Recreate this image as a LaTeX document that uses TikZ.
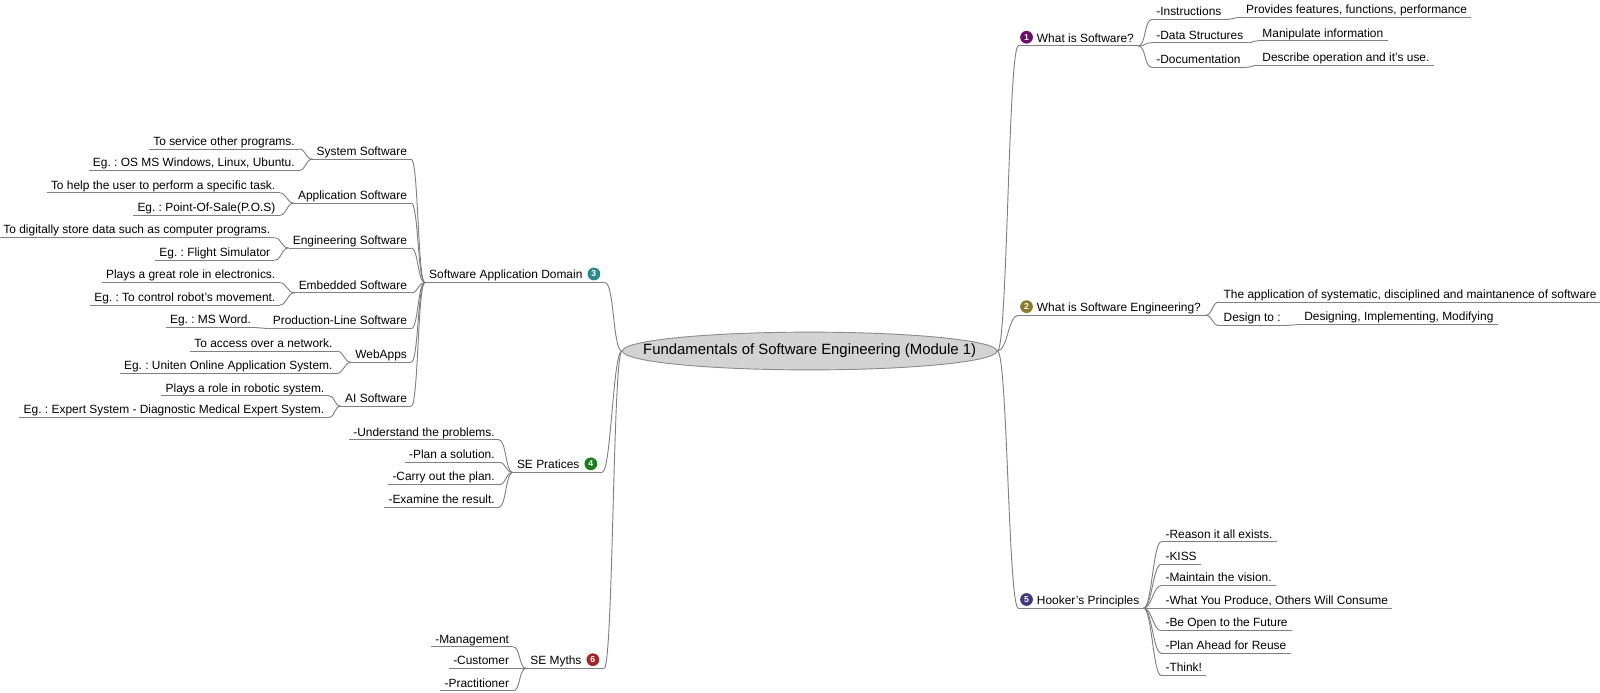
\documentclass[tikz,border=0pt]{standalone}
\usepackage{fontspec}
\setmainfont{Liberation Sans}
\usetikzlibrary{calc,shapes.geometric}
\definecolor{linec}{HTML}{808080}
\definecolor{rootfill}{HTML}{D3D3D3}
\definecolor{rootdraw}{HTML}{8C8C8C}
\definecolor{cA}{HTML}{6A0E6A}
\definecolor{cB}{HTML}{8C7A2E}
\definecolor{cC}{HTML}{2A8A8A}
\definecolor{cD}{HTML}{1A7F1A}
\definecolor{cE}{HTML}{3C3C7C}
\definecolor{cF}{HTML}{A02828}
\newcommand{\aps}{\char"0027\relax}
\frenchspacing
\begin{document}
\begin{tikzpicture}[x=1pt,y=-1pt,
  every node/.style={font=\fontsize{11.7}{13}\selectfont},
  ul/.style={draw=linec, line width=0.9pt},
  txt/.style={inner xsep=4pt, inner ysep=0pt, text height=9pt, text depth=3.5pt,
    append after command={(\tikzlastnode.south west) edge[ul] (\tikzlastnode.south east)}},
  rt/.style={txt, anchor=south west},
  lt/.style={txt, anchor=south east},
  num/.style={circle, fill=#1, inner sep=0pt, minimum size=12.5pt, text=white,
    font=\fontsize{8.5}{9}\selectfont\bfseries},
  conn/.style={draw=linec, line width=0.9pt},
  rc/.style={to path={.. controls ($(\tikztostart)+(#1,0)$) and ($(\tikztotarget)+(-#1,0)$) .. (\tikztotarget)}},
  lc/.style={to path={.. controls ($(\tikztostart)+(-#1,0)$) and ($(\tikztotarget)+(#1,0)$) .. (\tikztotarget)}}
]
\useasboundingbox (0,0) rectangle (1568,679);

% root
\node[ellipse, fill=rootfill, draw=rootdraw, line width=0.9pt, minimum width=367pt, minimum height=37pt,
  inner sep=0pt] (root) at (793.5,344) {};
\node[font=\fontsize{14.6}{16}\selectfont, inner sep=0pt] (roottxt) at (root.center) {Fundamentals of Software Engineering (Module 1)};

% ---------- right side ----------
\node[rt] (n1) at (998,45) {\hspace*{14pt}What is Software?};
\node[num=cA] (k1) at ($(n1.south west)+(8,-8.5)$) {1};
\node[rt] (n1a) at (1129,19) {-Instructions};
\node[rt] (n1b) at (1129,42) {-Data Structures};
\node[rt] (n1c) at (1129,66) {-Documentation};
\node[rt] (n1a1) at (1217,17) {Provides features, functions, performance};
\node[rt] (n1b1) at (1233,40) {Manipulate information};
\node[rt] (n1c1) at (1233,64) {Describe operation and it\aps s use.};

\node[rt] (n2) at (998,309) {\hspace*{14pt}What is Software Engineering?};
\node[num=cB] (k2) at ($(n2.south west)+(8,-8.5)$) {2};
\node[rt] (n2a) at (1195,296) {The application of systematic, disciplined and maintanence of software};
\node[rt] (n2b) at (1195,319) {Design to :};
\node[rt] (n2b1) at (1274,318) {Designing, Implementing, Modifying};

\node[rt] (n5) at (998,596) {\hspace*{14pt}Hooker\aps s Principles};
\node[num=cE] (k5) at ($(n5.south west)+(8,-8.5)$) {5};
\node[rt] (h1) at (1138,531) {-Reason it all exists.};
\node[rt] (h2) at (1138,553) {-KISS};
\node[rt] (h3) at (1138,574) {-Maintain the vision.};
\node[rt] (h4) at (1138,596) {-What You Produce, Others Will Consume};
\node[rt] (h5) at (1138,618) {-Be Open to the Future};
\node[rt] (h6) at (1138,640) {-Plan Ahead for Reuse};
\node[rt] (h7) at (1138,662) {-Think!};

% ---------- left side ----------
\node[lt] (n3) at (593,277) {Software Application Domain\hspace*{18pt}};
\node[num=cC] (k3) at ($(n3.south east)+(-11,-8.5)$) {3};
\node[lt] (s1) at (403,156) {System Software};
\node[lt] (s1a) at (293,146) {To service other programs.};
\node[lt] (s1b) at (293,167) {Eg. : OS MS Windows, Linux, Ubuntu.};
\node[lt] (s2) at (403,199) {Application Software};
\node[lt] (s2a) at (274,189) {To help the user to perform a specific task.};
\node[lt] (s2b) at (274,211) {Eg. : Point-Of-Sale(P.O.S)};
\node[lt] (s3) at (403,243) {Engineering Software};
\node[lt] (s3a) at (269,233) {To digitally store data such as computer programs.};
\node[lt] (s3b) at (269,255) {Eg. : Flight Simulator};
\node[lt] (s4) at (403,287) {Embedded Software};
\node[lt] (s4a) at (274,277) {Plays a great role in electronics.};
\node[lt] (s4b) at (274,299) {Eg. : To control robot\aps s movement.};
\node[lt] (s5) at (403,322) {Production-Line Software};
\node[lt] (s5a) at (250,321) {Eg. : MS Word.};
\node[lt] (s6) at (403,355) {WebApps};
\node[lt] (s6a) at (330,344) {To access over a network.};
\node[lt] (s6b) at (330,366) {Eg. : Uniten Online Application System.};
\node[lt] (s7) at (403,398) {AI Software};
\node[lt] (s7a) at (322,388) {Plays a role in robotic system.};
\node[lt] (s7b) at (322,409) {Eg. : Expert System - Diagnostic Medical Expert System.};

\node[lt] (n4) at (590,463) {SE Pratices\hspace*{18pt}};
\node[num=cD] (k4) at ($(n4.south east)+(-11,-8.5)$) {4};
\node[lt] (p1) at (489,431) {-Understand the problems.};
\node[lt] (p2) at (489,453) {-Plan a solution.};
\node[lt] (p3) at (489,475) {-Carry out the plan.};
\node[lt] (p4) at (489,497) {-Examine the result.};

\node[lt] (n6) at (592,655) {SE Myths\hspace*{18pt}};
\node[num=cF] (k6) at ($(n6.south east)+(-11,-8.5)$) {6};
\node[lt] (m1) at (503,634) {-Management};
\node[lt] (m2) at (503,655) {-Customer};
\node[lt] (m3) at (503,677) {-Practitioner};

% ---------- connectors ----------
\draw[conn] (root.east) to[rc=10] (n1.south west);
\draw[conn] (root.east) to[rc=10] (n2.south west);
\draw[conn] (root.east) to[rc=10] (n5.south west);
\foreach \c in {n1a,n1b,n1c} \draw[conn] (n1.south east) to[rc=8] (\c.south west);
\draw[conn] (n1a.south east) to[rc=8] (n1a1.south west);
\draw[conn] (n1b.south east) to[rc=6] (n1b1.south west);
\draw[conn] (n1c.south east) to[rc=7] (n1c1.south west);
\foreach \c in {n2a,n2b} \draw[conn] (n2.south east) to[rc=8] (\c.south west);
\draw[conn] (n2b.south east) to[rc=7] (n2b1.south west);
\foreach \c in {h1,h2,h3,h4,h5,h6,h7} \draw[conn] (n5.south east) to[rc=8] (\c.south west);

\draw[conn] (root.west) to[lc=9] (n3.south east);
\draw[conn] (root.west) to[lc=9] (n4.south east);
\draw[conn] (root.west) to[lc=9] (n6.south east);
\foreach \c in {s1,s2,s3,s4,s5,s6,s7} \draw[conn] (n3.south west) to[lc=7] (\c.south east);
\foreach \c in {s1a,s1b} \draw[conn] (s1.south west) to[lc=7] (\c.south east);
\foreach \c in {s2a,s2b} \draw[conn] (s2.south west) to[lc=7] (\c.south east);
\foreach \c in {s3a,s3b} \draw[conn] (s3.south west) to[lc=7] (\c.south east);
\foreach \c in {s4a,s4b} \draw[conn] (s4.south west) to[lc=7] (\c.south east);
\draw[conn] (s5.south west) to[lc=7] (s5a.south east);
\foreach \c in {s6a,s6b} \draw[conn] (s6.south west) to[lc=7] (\c.south east);
\foreach \c in {s7a,s7b} \draw[conn] (s7.south west) to[lc=7] (\c.south east);
\foreach \c in {p1,p2,p3,p4} \draw[conn] (n4.south west) to[lc=7] (\c.south east);
\foreach \c in {m1,m2,m3} \draw[conn] (n6.south west) to[lc=7] (\c.south east);
\end{tikzpicture}
\end{document}
